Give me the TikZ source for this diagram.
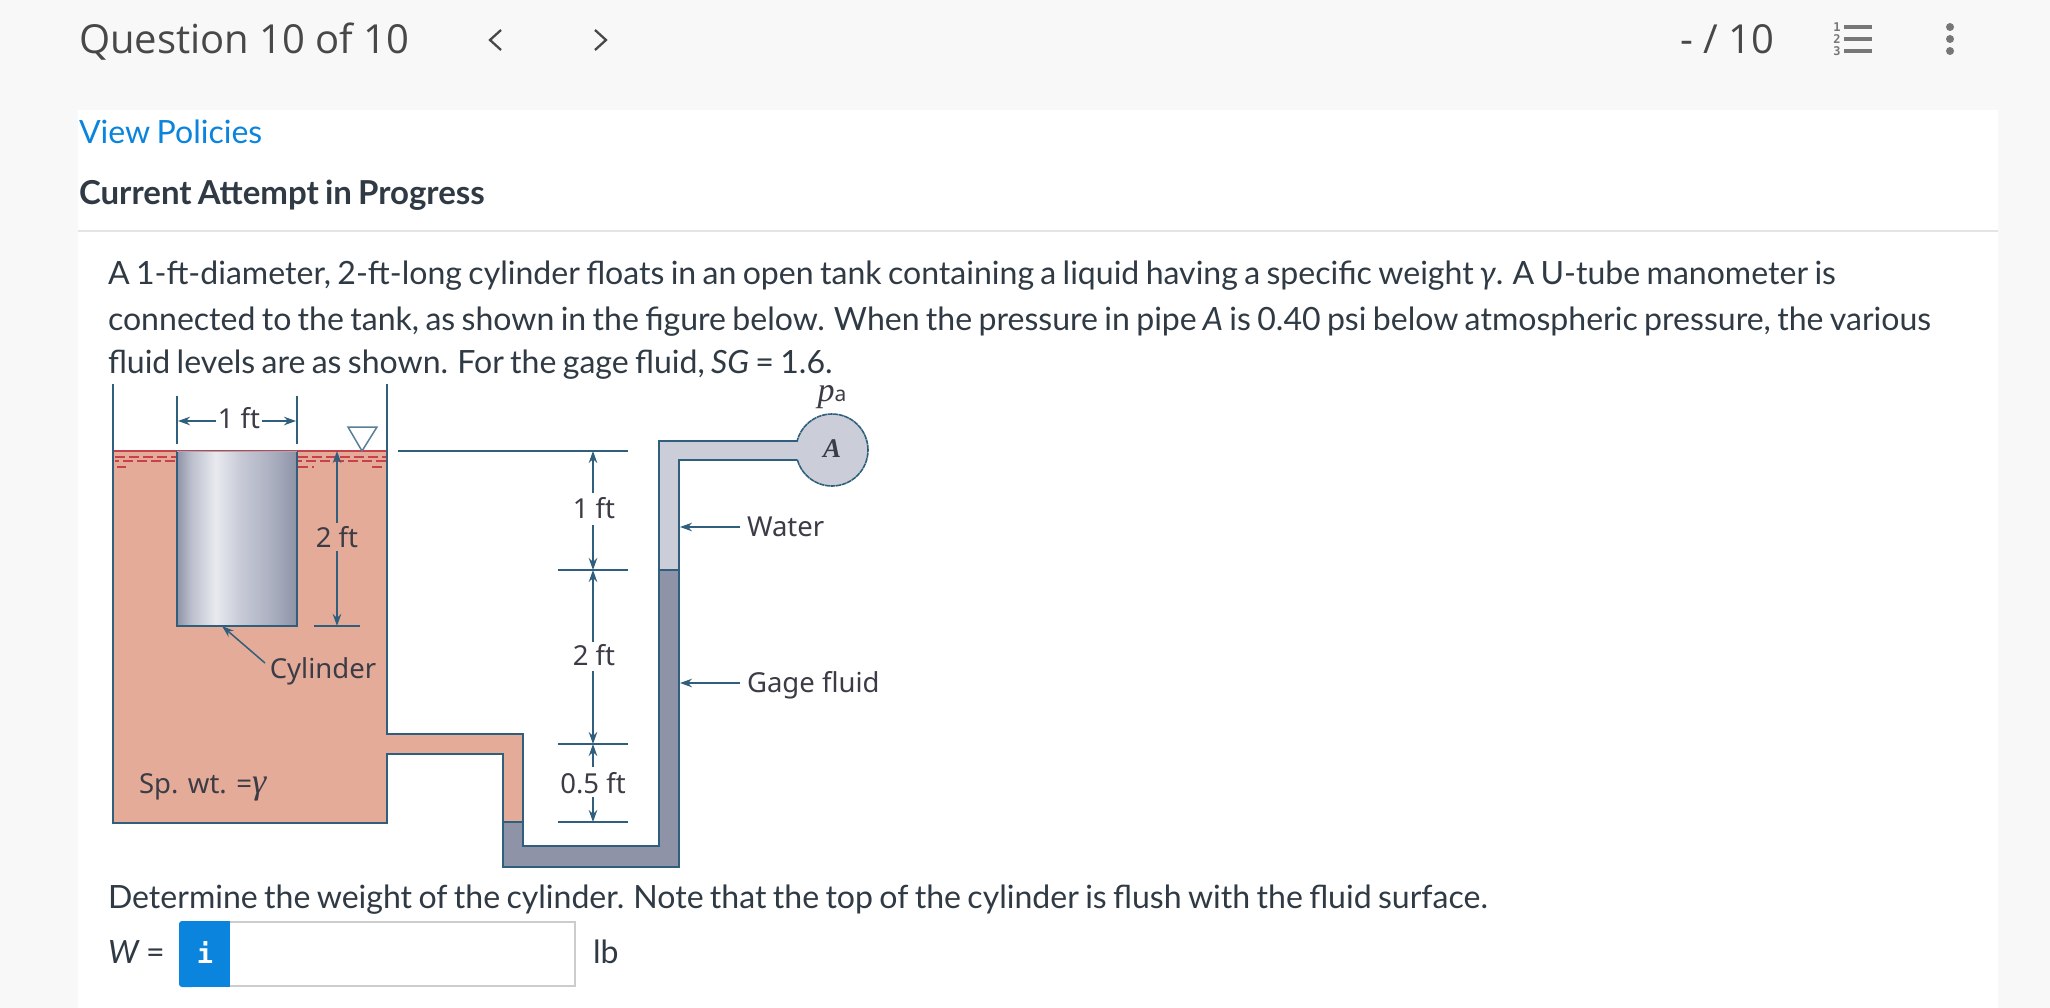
\documentclass[tikz,border=0pt]{standalone}
\usepackage{fontspec}
\usetikzlibrary{arrows.meta}
\setmainfont{Lato}[WordSpace=0.77]
\newfontfamily\hdrfont{Open Sans}
\newfontfamily\figfont{Noto Sans}
\newfontfamily\figserif{Liberation Serif}
\newfontfamily\iconfont{DejaVu Sans Mono}
\definecolor{pagebg}{HTML}{F8F8F8}
\definecolor{rulecol}{HTML}{E4E4E4}
\definecolor{hdrtext}{HTML}{484848}
\definecolor{bodytext}{HTML}{2F3A44}
\definecolor{linkblue}{HTML}{0A84DC}
\definecolor{iconcol}{HTML}{777777}
\definecolor{liquid}{HTML}{E4AC98}
\definecolor{waterc}{HTML}{CBCED9}
\definecolor{gagec}{HTML}{8E93A7}
\definecolor{linec}{HTML}{2F5F7C}
\definecolor{figtext}{HTML}{3C3C46}
\definecolor{redline}{HTML}{C8404A}
\definecolor{cyla}{HTML}{8D93A6}
\definecolor{cylm}{HTML}{BCBFCD}
\definecolor{cylb}{HTML}{E8EAEF}
\definecolor{cyld}{HTML}{C6C9D5}
\definecolor{cylc}{HTML}{A9AEBF}
\definecolor{boxline}{HTML}{CCCCCC}
\pgfdeclarehorizontalshading{cylshade}{100bp}{color(0bp)=(cyla); color(25bp)=(cyla); color(31bp)=(cylm); color(41bp)=(cylb); color(52bp)=(cyld); color(65bp)=(cylc); color(75bp)=(cyla); color(100bp)=(cyla)}
\tikzset{
  x=1pt,y=-1pt,
  every node/.style={inner sep=0pt,outer sep=0pt},
  hdr/.style={font=\hdrfont\fontsize{40}{44}\selectfont,text=hdrtext,anchor=base west},
  para/.style={font=\fontsize{32.05}{36}\selectfont,text=bodytext,anchor=base west},
  figlabel/.style={font=\figfont\fontsize{27.5}{30}\selectfont,text=figtext,anchor=base},
  wall/.style={draw=linec,line width=2.1pt},
  dimline/.style={draw=linec,line width=1.8pt},
  dimarrow/.style={draw=linec,line width=1.8pt,-{Stealth[length=12pt,width=8.5pt]}},
  reddash/.style={draw=redline,line width=1.4pt,dash pattern=on 10pt off 4pt},
  chevron/.style={draw=hdrtext,line width=2.3pt},
  menubar/.style={draw=iconcol,line width=4pt},
  menudot/.style={fill=iconcol,circle,minimum size=8pt},
  menunum/.style={font=\iconfont\bfseries\fontsize{12}{12}\selectfont,text=iconcol},
}
\begin{document}
\begin{tikzpicture}
\useasboundingbox (0,0) rectangle (2050,1008);
\fill[pagebg] (0,0) rectangle (2050,1008);
\fill[white] (78,110) rectangle (1998,1008);
% header
\node[hdr] (qtitle) at (79,54) {Question 10 of 10};
\coordinate (cl1) at (501,30); \coordinate (cl2) at (490,40); \coordinate (cl3) at (501,50);
\draw[chevron] (cl1) -- (cl2) -- (cl3);
\coordinate (cr1) at (595,30); \coordinate (cr2) at (606,40); \coordinate (cr3) at (595,50);
\draw[chevron] (cr1) -- (cr2) -- (cr3);
\node[hdr] (score) at (1680,54) {- / 10};
\node[menunum] (n1) at (1837,27) {1};
\node[menunum] (n2) at (1837,39) {2};
\node[menunum] (n3) at (1837,51) {3};
\coordinate (b1a) at (1844,27); \coordinate (b1b) at (1872,27);
\coordinate (b2a) at (1844,39); \coordinate (b2b) at (1872,39);
\coordinate (b3a) at (1844,51); \coordinate (b3b) at (1872,51);
\draw[menubar] (b1a) -- (b1b); \draw[menubar] (b2a) -- (b2b); \draw[menubar] (b3a) -- (b3b);
\node[menudot] (d1) at (1950,27) {}; \node[menudot] (d2) at (1950,39) {}; \node[menudot] (d3) at (1950,51) {};
% page text
\node[para,text=linkblue] (policies) at (79,144) {View Policies};
\node[para,font=\bfseries\fontsize{33}{36}\selectfont] (attempt) at (79,205) {Current Attempt in Progress};
\coordinate (ra) at (78,231); \coordinate (rb) at (1998,231);
\draw[rulecol,line width=1.2pt] (ra) -- (rb);
\node[para] (l1) at (108,284) {A 1-ft-diameter, 2-ft-long cylinder floats in an open tank containing a liquid having a specific weight \textit{γ}. A U-tube manometer is};
\node[para] (l2) at (108,330) {connected to the tank, as shown in the figure below. When the pressure in pipe \textit{A} is 0.40 psi below atmospheric pressure, the various};
\node[para] (l3) at (108,373) {fluid levels are as shown. For the gage fluid, \textit{SG} = 1.6.};
\node[para] (l4) at (108,908) {Determine the weight of the cylinder. Note that the top of the cylinder is flush with the fluid surface.};
\node[para] (wlab) at (108,963) {\textit{W} =};
% input
\draw[boxline,line width=2pt,fill=white] (225,922) rectangle (575,986);
\fill[linkblue,rounded corners=3pt] (179,921) rectangle (195,987);
\fill[linkblue] (187,921) rectangle (230,987);
\node[font=\iconfont\bfseries\fontsize{27}{28}\selectfont,text=white] (info) at (205,953) {i};
\node[para] (lb) at (593,963) {lb};
% fluids
\fill[liquid] (113,451) -- (387,451) -- (387,734) -- (523,734) -- (523,822) -- (503,822) -- (503,754) -- (387,754) -- (387,823) -- (113,823) -- cycle;
\fill[gagec] (503,822) -- (523,822) -- (523,846) -- (659,846) -- (659,570) -- (679,570) -- (679,867) -- (503,867) -- cycle;
\fill[waterc] (659,570) -- (659,441) -- (800,441) -- (800,460) -- (679,460) -- (679,570) -- cycle;
% surface lines
\coordinate (sl) at (113,451); \coordinate (sr) at (387,451);
\draw[redline,line width=1.8pt] (sl) -- (sr);
\coordinate (ra1) at (115,457); \coordinate (ra2) at (176,457);
\coordinate (rb1) at (115,461); \coordinate (rb2) at (176,461);
\coordinate (rc1) at (117,467); \coordinate (rc2) at (126,467);
\coordinate (rd1) at (298,457); \coordinate (rd2) at (386,457);
\coordinate (re1) at (298,461); \coordinate (re2) at (386,461);
\coordinate (rf1) at (298,467); \coordinate (rf2) at (314,467);
\coordinate (rg1) at (372,467); \coordinate (rg2) at (386,467);
\draw[reddash] (ra1) -- (ra2); \draw[reddash,dash phase=6pt] (rb1) -- (rb2); \draw[reddash] (rc1) -- (rc2);
\draw[reddash] (rd1) -- (rd2); \draw[reddash,dash phase=6pt] (re1) -- (re2); \draw[reddash] (rf1) -- (rf2); \draw[reddash] (rg1) -- (rg2);
% cylinder
\path[shading=cylshade] (177,451) rectangle (297,626);
\draw[wall] (177,451) -- (177,626) -- (297,626) -- (297,451);
\draw[linec!50,line width=1pt] (177,451) -- (297,451);
% tank and tube
\draw[wall] (113,384) -- (113,823) -- (387,823) -- (387,754) -- (503,754) -- (503,867) -- (679,867) -- (679,460) -- (797,460);
\draw[wall] (387,384) -- (387,734) -- (523,734) -- (523,846) -- (659,846) -- (659,441) -- (797,441);
\coordinate (ifa) at (503,822); \coordinate (ifb) at (523,822);
\draw[wall] (ifa) -- (ifb);
\coordinate (igb) at (659,570); \coordinate (iga) at (679,570);
\draw[wall] (igb) -- (iga);
% pipe A
\node[circle,minimum size=72pt,fill=waterc,draw=linec,line width=1.6pt,dash pattern=on 5pt off 0.6pt] (pipeA) at (832,450) {};
\fill[waterc] (790,442) rectangle (806,459);
\node[font=\figserif\bfseries\itshape\fontsize{27}{30}\selectfont,text=figtext] (Alab) at (832,449) {A};
\node[text=figtext,anchor=base,font=\figserif\itshape\fontsize{34}{30}\selectfont] (pa) at (832,401) {p\textup{\figfont\fontsize{21}{20}\selectfont a}};
% surface symbol
\draw[draw=linec!80,line width=1.5pt,fill=white] (348,427) -- (377,427) -- (362,451) -- cycle;
% 1 ft width dim
\coordinate (t1a) at (177,396); \coordinate (t1b) at (177,444);
\coordinate (t2a) at (297,396); \coordinate (t2b) at (297,444);
\draw[dimline] (t1a) -- (t1b); \draw[dimline] (t2a) -- (t2b);
\node[figlabel] (w1ft) at (239,428) {1 ft};
\coordinate (w1l) at (178,421); \coordinate (w1r) at (296,421);
\coordinate (w1ls) at (216,421); \coordinate (w1rs) at (262,421);
\draw[dimarrow] (w1ls) -- (w1l);
\draw[dimarrow] (w1rs) -- (w1r);
% 2 ft tank dim
\node[figlabel] (h2ft) at (337,547) {2 ft};
\coordinate (h2t) at (337,451); \coordinate (h2b) at (337,626);
\coordinate (h2ts) at (337,523); \coordinate (h2bs) at (337,551);
\coordinate (h2l) at (314,626); \coordinate (h2r) at (360,626);
\draw[dimline] (h2l) -- (h2r);
\draw[dimarrow] (h2ts) -- (h2t);
\draw[dimarrow] (h2bs) -- (h2b);
% cylinder label
\node[figlabel] (cyl) at (323,678) {Cylinder};
\coordinate (cylp) at (222,626); \coordinate (cyls) at (265,663);
\draw[draw=linec,line width=1.5pt,-{Stealth[length=12pt,width=8pt]}] (cyls) -- (cylp);
\node[figlabel,anchor=base west] (spwt) at (139,793) {Sp. wt. =\textit{\figserif\fontsize{36}{30}\selectfont γ}};
% manometer dims
\coordinate (m0a) at (398,451); \coordinate (m0b) at (628,451);
\coordinate (m1a) at (558,570); \coordinate (m1b) at (628,570);
\coordinate (m2a) at (558,744); \coordinate (m2b) at (628,744);
\coordinate (m3a) at (558,822); \coordinate (m3b) at (628,822);
\draw[dimline] (m0a) -- (m0b); \draw[dimline] (m1a) -- (m1b);
\draw[dimline] (m2a) -- (m2b); \draw[dimline] (m3a) -- (m3b);
\node[figlabel] (f1) at (594,518) {1 ft};
\node[figlabel] (f2) at (594,665) {2 ft};
\node[figlabel] (f3) at (593,793) {0.5 ft};
\coordinate (a0) at (593,451); \coordinate (a1) at (593,570); \coordinate (a2) at (593,744); \coordinate (a3) at (593,822);
\coordinate (s0) at (593,493); \coordinate (s1) at (593,525); \coordinate (s2) at (593,642);
\coordinate (s3) at (593,671); \coordinate (s4) at (593,767); \coordinate (s5) at (593,797);
\draw[dimarrow] (s0) -- (a0);
\draw[dimarrow] (s1) -- (a1);
\draw[dimarrow] (s2) -- (a1);
\draw[dimarrow] (s3) -- (a2);
\draw[dimarrow] (s4) -- (a2);
\draw[dimarrow] (s5) -- (a3);
% side labels
\node[figlabel,anchor=base west] (water) at (747,536) {Water};
\node[figlabel,anchor=base west] (gage) at (747,692) {Gage fluid};
\coordinate (wp) at (680,527); \coordinate (gp) at (680,683);
\coordinate (ws) at (740,527); \coordinate (gs) at (740,683);
\draw[dimarrow] (ws) -- (wp);
\draw[dimarrow] (gs) -- (gp);
\end{tikzpicture}
\end{document}
